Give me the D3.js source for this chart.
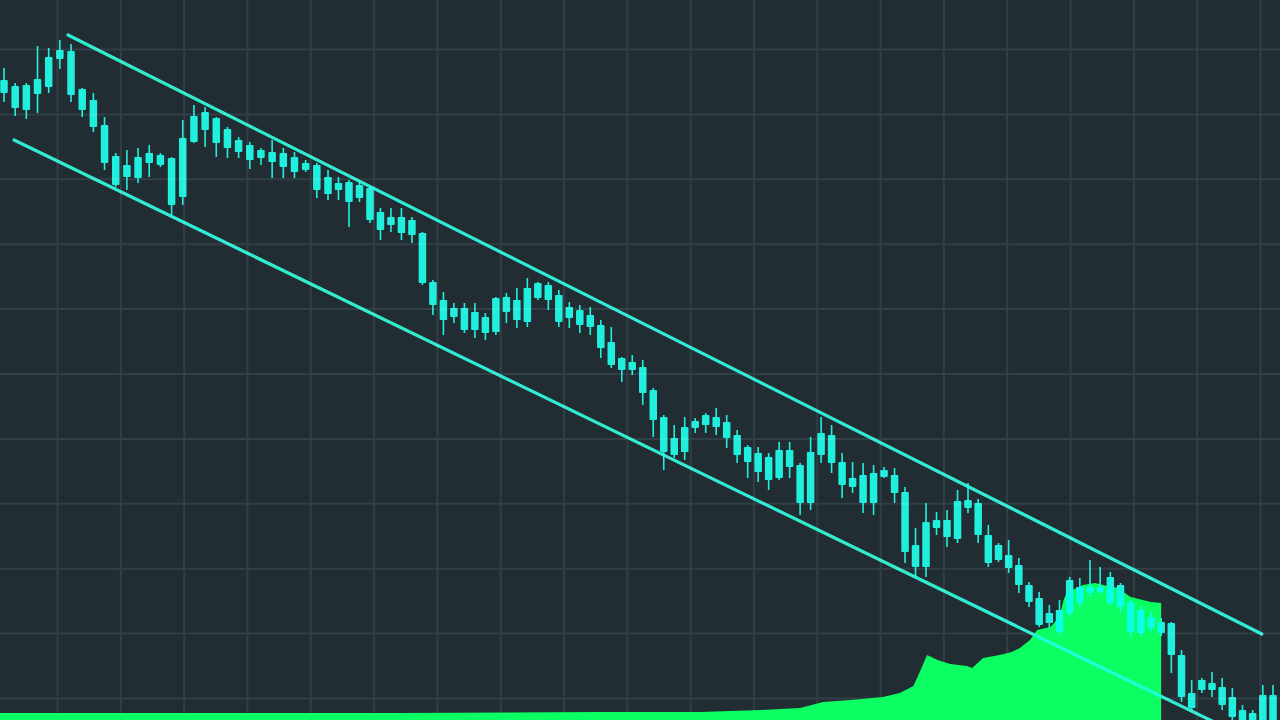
<!DOCTYPE html>
<html>
<head>
<meta charset="utf-8">
<script src="https://cdn.jsdelivr.net/npm/d3@7"></script>
<style>
  html, body { margin: 0; padding: 0; background: #212d33; overflow: hidden; }
  svg { display: block; }
</style>
</head>
<body>
<svg id="chart" width="1280" height="720"></svg>
<script>
// ---- data (prices in arbitrary points) ----
const highs = [932,917,917,954,952,960,956,912,907,883,847,850,852,855,847,843,880,895,893,883,873,863,858,852,860,852,848,840,837,830,
               823,820,818,813,792,792,792,783,768,720,708,697,697,697,687,703,707,712,722,718,718,710,698,695,693,680,673,643,645,640,
               612,585,575,583,582,587,592,585,570,555,553,547,558,558,537,563,583,575,547,538,537,535,533,532,513,472,497,488,490,510,
               517,501,475,457,460,442,418,408,395,400,423,422,440,433,428,417,400,394,388,382,378,350,320,322,328,322,312,295,290,315,315];
const opens = [920,914,915,921,943,950,949,911,900,875,844,835,843,847,845,842,862,884,888,882,871,860,855,850,848,847,843,837,835,823,
               817,818,815,812,788,783,783,780,767,718,700,692,692,688,683,702,703,700,712,717,715,705,693,690,685,675,658,642,638,633,
               610,583,562,573,579,585,583,578,565,553,547,543,550,550,535,548,567,565,538,522,525,527,530,525,508,455,478,480,480,499,
               500,497,465,455,445,435,415,402,387,390,420,413,413,413,423,415,398,390,383,378,377,345,307,320,317,313,303,290,287,305,305];
const closes = [907,892,890,906,913,941,905,890,873,837,815,823,822,837,835,795,803,858,870,857,852,848,840,842,838,833,828,830,810,806,
                810,798,802,780,770,775,767,765,717,695,680,683,670,670,667,668,688,680,678,702,700,678,682,675,673,652,635,630,630,607,
                580,548,545,548,572,575,573,562,545,538,528,520,522,533,497,497,545,537,515,513,497,497,523,507,448,433,433,472,463,461,
                492,465,437,440,432,415,398,375,377,368,387,397,407,408,397,393,368,367,372,367,345,303,292,310,310,295,283,278,278,278,278];
const lows = [898,884,881,887,907,931,898,883,868,830,813,810,817,823,833,785,795,857,853,843,842,842,831,835,822,822,822,828,802,800,
              800,773,798,777,760,768,760,757,715,685,665,677,667,662,660,665,677,672,673,700,690,673,672,667,665,642,632,618,625,595,
              563,530,542,540,567,567,565,552,537,522,518,510,520,522,485,490,537,527,502,507,487,485,522,497,437,423,423,465,453,457,
              487,457,433,438,427,407,393,373,372,364,383,393,403,405,394,388,363,363,368,364,327,298,290,307,303,290,278,275,275,275,275];

// green flow area (x in candle-index units, value in flow units)
const flowIdx = [-0.4, 35.9, 54.9, 64.5, 70.2, 74.0, 76.2, 78.8, 81.9, 83.5, 84.8, 85.4, 86.1, 87.1, 88.3, 89.9, 90.4,
                 91.5, 93.1, 94.3, 95.1, 96.1, 96.8, 98.1, 99.0, 99.4, 99.7, 100.5, 101.3, 102.5, 103.3, 104.7, 106.0, 108.0, 109.0];
const flowVal = [7, 7, 8, 8, 10, 12, 18, 20, 23, 27, 34, 48, 65, 60, 56, 54, 52,
                 62, 65, 68, 72, 80, 90, 93, 103, 120, 127, 131, 135, 137, 135, 132, 123, 118, 117];

// descending channel (index, price)
const upperChannel = [[5.73, 965], [118.9, 366]];
const lowerChannel = [[0.9, 860], [120.7, 246]];

// grid
const gridCols = d3.range(20);
const gridRows = d3.range(11);

// ---- drawing ----
const W = 1280, H = 720;
const svg = d3.select("#chart");

const x = d3.scaleLinear().domain([0, 29, 90, 120]).range([4, 328, 968, 1273]);
const y = d3.scaleLinear().domain([280, 1000]).range([720, 0]);
const yFlow = d3.scaleLinear().domain([0, 150]).range([720, 570]);
const gx = d3.scaleLinear().domain([0, 19]).range([57, 1260]);
const gy = d3.scaleLinear().domain([0, 10]).range([49, 698]);

svg.append("rect").attr("width", W).attr("height", H).attr("fill", "#212d33");

// grid via axes
const gridG = svg.append("g").attr("class", "grid");
gridG.append("g")
  .call(d3.axisTop(gx).tickValues(gridCols).tickSize(-H).tickFormat(""))
  .call(g => g.select(".domain").remove())
  .call(g => g.selectAll("line").attr("stroke", "#313f46").attr("stroke-width", 2));
gridG.append("g")
  .call(d3.axisLeft(gy).tickValues(gridRows).tickSize(-W).tickFormat(""))
  .call(g => g.select(".domain").remove())
  .call(g => g.selectAll("line").attr("stroke", "#313f46").attr("stroke-width", 2));

// flow area
const flow = flowIdx.map((d, i) => ({ i: d, v: flowVal[i] }));
const area = d3.area()
  .x(d => x(d.i))
  .y0(H + 5)
  .y1(d => yFlow(d.v))
  .curve(d3.curveLinear);
svg.append("path")
  .datum(flow)
  .attr("d", area)
  .attr("fill", "#0bff62");

// candles
const candles = highs.map((h, i) => ({ i, o: opens[i], h, l: lows[i], c: closes[i] }));
const cg = svg.append("g").style("mix-blend-mode", "screen");
const col = "#00ecd6";
const bw = 7.5;
cg.selectAll("line.wick").data(candles).join("line")
  .attr("class", "wick")
  .attr("x1", d => x(d.i)).attr("x2", d => x(d.i))
  .attr("y1", d => y(d.h)).attr("y2", d => y(d.l))
  .attr("stroke", col).attr("stroke-width", 1.6);
cg.selectAll("rect.body").data(candles).join("rect")
  .attr("class", "body")
  .attr("x", d => x(d.i) - bw / 2)
  .attr("width", bw)
  .attr("y", d => y(Math.max(d.o, d.c)))
  .attr("height", d => Math.max(2, Math.abs(y(d.o) - y(d.c))))
  .attr("rx", 1)
  .attr("fill", col);

// channel lines
const lg = svg.append("g").style("mix-blend-mode", "screen");
[upperChannel, lowerChannel].forEach(ch => {
  lg.append("line")
    .attr("x1", x(ch[0][0])).attr("y1", y(ch[0][1]))
    .attr("x2", x(ch[1][0])).attr("y2", y(ch[1][1]))
    .attr("stroke", "#14e8c6").attr("stroke-width", 3.2)
    .attr("stroke-linecap", "round");
});
</script>
</body>
</html>
